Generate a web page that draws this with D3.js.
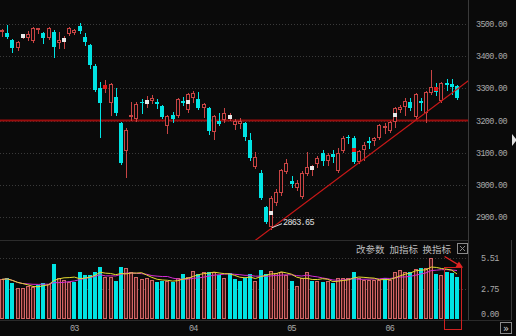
<!DOCTYPE html>
<html>
<head>
<meta charset="utf-8">
<script src="https://cdn.jsdelivr.net/npm/d3@7"></script>
<style>
  html, body { margin: 0; padding: 0; background: #0a0a0a; overflow: hidden; }
  svg { display: block; }
</style>
</head>
<body>
<script>
// daily candles (index 0 = leftmost candle)
const open = [3475,3472,3450,3425,3462,3456,3447,3481,3472,3456, 3475,3441,3450,3469,3472,3494,3459,3435,3369,3301,
  3298,3254,3273,3192,3105,3211,3205,3258,3255,3261, 3258,3245,3183,3217,3214,3261,3233,3270,3267,3239,
  3239,3164,3198,3202,3211,3186,3189,3192,3139,3056, 3037,2931,2869,2944,2975,3040,3012,2990,2962,3034,
  3050,3065,3099,3074,3096,3043,3105,3150,3146,3071, 3108,3136,3136,3146,3177,3167,3195,3233,3242,3258,
  3211,3261,3223,3286,3304,3261,3317,3313,3307];
const high = [3484,3497,3453,3447,3467,3478,3491,3488,3475,3491, 3481,3475,3463,3491,3484,3503,3472,3438,3376,3320,
  3326,3317,3301,3195,3177,3258,3258,3267,3276,3279, 3267,3248,3217,3227,3270,3273,3285,3292,3289,3254,
  3242,3217,3223,3239,3223,3205,3208,3195,3161,3102, 3046,2934,2965,2987,3049,3080,3027,3015,3043,3102,
  3062,3090,3108,3099,3108,3115,3152,3155,3152,3108, 3133,3149,3149,3189,3192,3198,3242,3248,3270,3270,
  3285,3270,3292,3357,3317,3320,3329,3329,3310];
const low = [3462,3456,3413,3419,3458,3450,3444,3472,3441,3453, 3397,3425,3425,3466,3469,3472,3435,3363,3292,3149,
  3289,3217,3217,3065,3024,3202,3199,3223,3242,3254, 3239,3208,3161,3195,3211,3248,3226,3258,3236,3211,
  3158,3142,3186,3195,3202,3174,3177,3139,3077,3052, 2956,2881,2863.65,2937,2968,3037,2993,2984,2959,3031,
  3031,3056,3062,3062,3071,3040,3102,3130,3068,3068, 3077,3115,3124,3142,3161,3164,3180,3226,3217,3233,
  3208,3233,3195,3282,3279,3258,3295,3282,3267];
const close = [3481,3460,3425,3444,3464,3469,3488,3487,3456,3488, 3428,3450,3452,3488,3481,3478,3444,3373,3295,3254,
  3310,3312,3223,3068,3170,3217,3251,3253,3258,3270, 3251,3211,3214,3205,3267,3254,3282,3285,3239,3251,
  3167,3214,3189,3223,3214,3200,3198,3149,3083,3087, 2959,2884,2959,2978,3046,3068,3003,3006,3037,3056,
  3053,3083,3074,3093,3087,3099,3146,3147,3071,3105, 3124,3130,3146,3186,3183,3195,3239,3242,3261,3239,
  3282,3254,3289,3304,3289,3317,3310,3304,3270];
const volume = [3.58,3.67,3.22,2.77,2.77,3.01,2.92,3.07,3.28,3.13, 4.94,3.73,3.52,3.37,3.37,4.22,3.97,3.97,4.22,4.73,
  3.82,3.82,3.43,4.73,4.58,4.22,3.77,3.61,3.67,3.52, 3.37,3.46,3.46,3.30,3.73,4.07,3.82,4.34,4.04,4.22,
  4.28,4.28,3.97,3.73,4.13,3.58,3.46,3.73,4.04,3.46, 4.43,4.04,4.34,4.19,4.28,3.97,3.46,2.98,3.67,4.28,
  3.46,3.43,3.37,3.40,3.22,3.67,3.73,3.67,4.22,3.67, 3.52,3.52,3.52,3.52,3.73,3.52,4.28,4.43,4.28,4.28,
  4.49,4.58,4.58,5.54,4.10,4.00,4.28,4.13,3.82];

const monthTicks = [14, 37, 56, 75];
const monthLabels = ['03', '04', '05', '06'];
const priceTicks = [2900, 3000, 3100, 3200, 3300, 3400, 3500];
const volTicks = [0, 2.75, 5.51];

// small white / red squares drawn over some candles
const whiteMarks = [[4, 3463], [12, 3451], [28, 3257], [36, 3258], [44, 3212], [52, 2912], [60, 3051], [76, 3217]];
const redMarks = [[20, 3304], [68, 3108], [84, 3297]];

const levelLine = 3200;
const trendPoints = [[52, 2863.65], [86, 3273]];
const lowIndex = 52;

const W = 516, H = 336;
const bg = '#0a0a0a';
const upColor = '#c84444';
const downColor = '#00e4e4';
const gridColor = '#3a3a3a';
const textColor = '#a8a8a8';
const numFont = '"Liberation Mono", "DejaVu Sans Mono", monospace';

const svg = d3.select('body').append('svg').attr('width', W).attr('height', H);
svg.append('rect').attr('width', W).attr('height', H).attr('fill', bg);

const n = close.length;
const x = d3.scaleLinear().domain([0, n - 1]).range([2, 457]);
const y = d3.scaleLinear().domain([2900, 3500]).range([217, 24]);
const vy = d3.scaleLinear().domain([0, 5.51]).range([319, 258]);

const plotRight = 468, mainBottom = 240, volBottom = 320;

svg.append('clipPath').attr('id', 'mainClip')
  .append('rect').attr('x', 0).attr('y', 0).attr('width', plotRight).attr('height', mainBottom);

// grid
const grid = svg.append('g').attr('stroke', gridColor).attr('stroke-dasharray', '1,2');
grid.selectAll('line.p').data(priceTicks).join('line')
  .attr('x1', 0).attr('x2', plotRight)
  .attr('y1', d => Math.round(y(d)) + 0.5).attr('y2', d => Math.round(y(d)) + 0.5);
grid.selectAll('line.v').data(volTicks.filter(d => d > 0)).join('line')
  .attr('x1', 0).attr('x2', plotRight)
  .attr('y1', d => Math.round(vy(d)) + 0.5).attr('y2', d => Math.round(vy(d)) + 0.5);

// frame lines
const frame = svg.append('g').attr('stroke', '#3a3a3a').attr('shape-rendering', 'crispEdges');
frame.append('line').attr('x1', plotRight + 0.5).attr('x2', plotRight + 0.5).attr('y1', 0).attr('y2', volBottom);
frame.append('line').attr('x1', 0).attr('x2', plotRight).attr('y1', mainBottom + 0.5).attr('y2', mainBottom + 0.5).attr('stroke', '#2c2c2c');
frame.append('line').attr('x1', 0).attr('x2', 511).attr('y1', volBottom + 0.5).attr('y2', volBottom + 0.5).attr('stroke', '#2a2a2a');
frame.append('line').attr('x1', 511.5).attr('x2', 511.5).attr('y1', mainBottom).attr('y2', volBottom);

// price axis labels
svg.append('g').selectAll('text').data(priceTicks).join('text')
  .attr('x', 476).attr('y', d => y(d) + 3)
  .attr('fill', textColor).attr('font-family', numFont).attr('font-size', 8.5)
  .attr('letter-spacing', -0.7)
  .text(d => d.toFixed(2));

// volume axis labels
svg.append('g').selectAll('text').data(volTicks).join('text')
  .attr('x', 481).attr('y', d => Math.min(vy(d), 313.5) + 3)
  .attr('fill', textColor).attr('font-family', numFont).attr('font-size', 8.5)
  .attr('letter-spacing', -0.7)
  .text(d => d.toFixed(2));

// month labels
svg.append('g').selectAll('text').data(monthTicks).join('text')
  .attr('x', d => x(d)).attr('y', 331).attr('text-anchor', 'middle')
  .attr('fill', textColor).attr('font-family', numFont).attr('font-size', 8.5)
  .attr('letter-spacing', -0.7)
  .text((d, i) => monthLabels[i]);

// horizontal level line
svg.append('line')
  .attr('x1', 0).attr('x2', plotRight)
  .attr('y1', y(levelLine)).attr('y2', y(levelLine))
  .attr('stroke', '#9a0c0c').attr('stroke-width', 2);

// candles
const idx = d3.range(n);
const isUp = i => close[i] >= open[i];
const main = svg.append('g').attr('clip-path', 'url(#mainClip)').attr('shape-rendering', 'crispEdges');
const candle = main.selectAll('g.c').data(idx).join('g');

candle.append('line')
  .attr('x1', i => Math.round(x(i)) + 0.5).attr('x2', i => Math.round(x(i)) + 0.5)
  .attr('y1', i => Math.round(y(high[i]))).attr('y2', i => Math.round(y(low[i])) + 1)
  .attr('stroke', i => isUp(i) ? upColor : downColor);

candle.filter(i => isUp(i)).append('rect')
  .attr('x', i => Math.round(x(i)) - 1.5)
  .attr('y', i => Math.round(y(close[i])) + 0.5)
  .attr('width', 3)
  .attr('height', i => Math.max(1, Math.round(y(open[i])) - Math.round(y(close[i])) - 1))
  .attr('fill', bg).attr('stroke', upColor);

candle.filter(i => !isUp(i)).append('rect')
  .attr('x', i => Math.round(x(i)) - 2)
  .attr('y', i => Math.round(y(open[i])))
  .attr('width', 4)
  .attr('height', i => Math.max(1, Math.round(y(close[i])) - Math.round(y(open[i]))))
  .attr('fill', downColor);

main.selectAll('rect.w').data(whiteMarks).join('rect')
  .attr('x', d => Math.round(x(d[0])) - 2).attr('y', d => Math.round(y(d[1])) - 2)
  .attr('width', 4).attr('height', 4).attr('fill', '#e8e8e8');
main.selectAll('rect.r').data(redMarks).join('rect')
  .attr('x', d => Math.round(x(d[0])) - 2).attr('y', d => Math.round(y(d[1])) - 2)
  .attr('width', 4).attr('height', 4).attr('fill', '#e01818');

// trend line through the two anchors, extended and clipped to the price panel
const slope = (trendPoints[1][1] - trendPoints[0][1]) / (trendPoints[1][0] - trendPoints[0][0]);
const tA = 40, tB = 95;
const tp = i => trendPoints[0][1] + slope * (i - trendPoints[0][0]);
svg.append('g').attr('clip-path', 'url(#mainClip)')
  .append('line')
  .attr('x1', x(tA)).attr('y1', y(tp(tA)))
  .attr('x2', x(tB)).attr('y2', y(tp(tB)))
  .attr('stroke', '#c81818').attr('stroke-width', 1.2);

// lowest point annotation
const lx = Math.round(x(lowIndex)) + 1, ly = y(low[lowIndex]) - 1;
svg.append('line').attr('x1', lx).attr('y1', ly).attr('x2', lx + 10).attr('y2', ly - 4)
  .attr('stroke', '#d8d8d8').attr('stroke-width', 1);
svg.append('text').attr('x', lx + 11).attr('y', ly - 3)
  .attr('fill', '#e0e0e0').attr('font-family', numFont).attr('font-size', 8.5)
  .attr('letter-spacing', -0.7)
  .text(low[lowIndex].toFixed(2));

// volume bars
const volUp = i => i === 0 ? close[i] >= open[i] : close[i] >= close[i - 1];
const vol = svg.append('g').attr('shape-rendering', 'crispEdges');
vol.selectAll('rect.u').data(idx.filter(volUp)).join('rect')
  .attr('x', i => Math.round(x(i)) - 1.5)
  .attr('y', i => Math.round(vy(volume[i])) + 0.5)
  .attr('width', 3)
  .attr('height', i => Math.round(vy(0)) - Math.round(vy(volume[i])) - 1)
  .attr('fill', '#4e1a1a').attr('stroke', '#d06666');
vol.selectAll('rect.d').data(idx.filter(i => !volUp(i))).join('rect')
  .attr('x', i => Math.round(x(i)) - 2)
  .attr('y', i => Math.round(vy(volume[i])))
  .attr('width', 4)
  .attr('height', i => Math.round(vy(0)) - Math.round(vy(volume[i])))
  .attr('fill', downColor);

// volume moving averages
function ma(k) {
  return volume.map((v, i) => d3.mean(volume.slice(Math.max(0, i - k + 1), i + 1)));
}
const ma5 = ma(5), ma10 = ma(10);
const vline = arr => d3.line().x((d, i) => x(i)).y(d => vy(d))(arr);
svg.append('path').attr('d', vline(ma10)).attr('fill', 'none').attr('stroke', '#d42cd4').attr('stroke-width', 1);
svg.append('path').attr('d', vline(ma5)).attr('fill', 'none').attr('stroke', '#e4dc30').attr('stroke-width', 1);

// panel buttons
const btn = svg.append('g').attr('font-family', '"Noto Sans CJK SC", sans-serif').attr('font-size', 9.5).attr('fill', '#bdbdbd');
btn.append('text').attr('x', 356).attr('y', 252.5).text('改参数');
btn.append('text').attr('x', 389.5).attr('y', 252.5).text('加指标');
btn.append('text').attr('x', 422.5).attr('y', 252.5).text('换指标');
const closeBox = svg.append('g').attr('stroke', '#8a8a8a').attr('fill', 'none');
closeBox.append('rect').attr('x', 457.5).attr('y', 243.5).attr('width', 10).attr('height', 10);
closeBox.append('path').attr('d', 'M460,246 L465,251 M465,246 L460,251');

// annotation: arrow and box around the last bars
const red = '#e02222';
const ax0 = x(85.6), ay0 = vy(5.65), ax1 = x(89.2), ay1 = vy(4.62);
svg.append('line').attr('x1', ax0).attr('y1', ay0).attr('x2', ax1 - 3).attr('y2', ay1 - 2)
  .attr('stroke', red).attr('stroke-width', 1.3);
const ang = Math.atan2(ay1 - ay0, ax1 - ax0);
const hl = 7, hw = 3.2;
const bx = ax1 - hl * Math.cos(ang), by = ay1 - hl * Math.sin(ang);
svg.append('path').attr('fill', red)
  .attr('d', `M${ax1},${ay1} L${bx - hw * Math.sin(ang)},${by + hw * Math.cos(ang)} L${bx + hw * Math.sin(ang)},${by - hw * Math.cos(ang)} Z`);
svg.append('rect')
  .attr('x', Math.round(x(85.45)) + 0.5).attr('y', Math.round(vy(4.7)) + 0.5)
  .attr('width', Math.round(x(88.75) - x(85.45))).attr('height', Math.round(vy(-0.92) - vy(4.7)))
  .attr('fill', 'none').attr('stroke', '#d02020');

// small side handle and scroll button
svg.append('path').attr('d', 'M512,134 L516,139 L516,141 L512,146 Z').attr('fill', '#e0e0e0');
svg.append('rect').attr('x', 500.5).attr('y', 322.5).attr('width', 11).attr('height', 11)
  .attr('fill', 'none').attr('stroke', '#8a8a8a');
svg.append('text').attr('x', 506).attr('y', 331.5).attr('text-anchor', 'middle')
  .attr('fill', '#d0d0d0').attr('font-family', '"DejaVu Sans", sans-serif').attr('font-size', 10)
  .text('»');
</script>
</body>
</html>
